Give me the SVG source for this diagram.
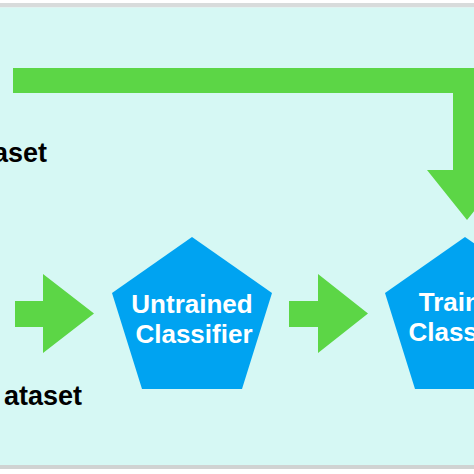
<svg xmlns="http://www.w3.org/2000/svg" width="474" height="474" viewBox="0 0 474 474">
<style>
.arrow{fill:#5cd646}
.node{fill:#00a3f1}
.nlabel{font-family:"Liberation Sans",Arial,sans-serif;font-weight:bold;font-size:26px;fill:#ffffff;text-anchor:middle}
.label{font-family:"Liberation Sans",Arial,sans-serif;font-weight:bold;font-size:27px;fill:#000000;text-anchor:end}
</style>
<rect x="0" y="0" width="474" height="474" fill="#ffffff"/>
<rect x="0" y="3" width="474" height="4.5" fill="#d8dbdb"/>
<rect x="0" y="7.5" width="474" height="457.5" fill="#d6f8f4"/>
<rect x="0" y="465" width="474" height="4" fill="#d0d3d2"/>
<g id="connectors">
<path class="arrow" d="M13,68 H481 V170 H507 L467,220 L427,170 H453 V93 H13 Z"/>
<path class="arrow" d="M15,301 H43 V274 L94,313.5 L43,353 V327 H15 Z"/>
<path class="arrow" d="M289,301 H318 V274 L368,313.5 L318,353 V327 H289 Z"/>
</g>
<g id="label-top"><text class="label" x="47" y="162">aset</text></g>
<g id="label-bottom"><text class="label" x="82" y="405">ataset</text></g>
<g id="untrained">
<polygon class="node" points="192,237 272,293 242,389 142,389 112,293"/>
<text class="nlabel" x="192" y="313">Untrained</text>
<text class="nlabel" x="194" y="343">Classifier</text>
</g>
<g id="trained">
<polygon class="node" points="465,237 545,293 515,389 415,389 385,293"/>
<text class="nlabel" x="465" y="311">Trained</text>
<text class="nlabel" x="467" y="341">Classifier</text>
</g>
</svg>
